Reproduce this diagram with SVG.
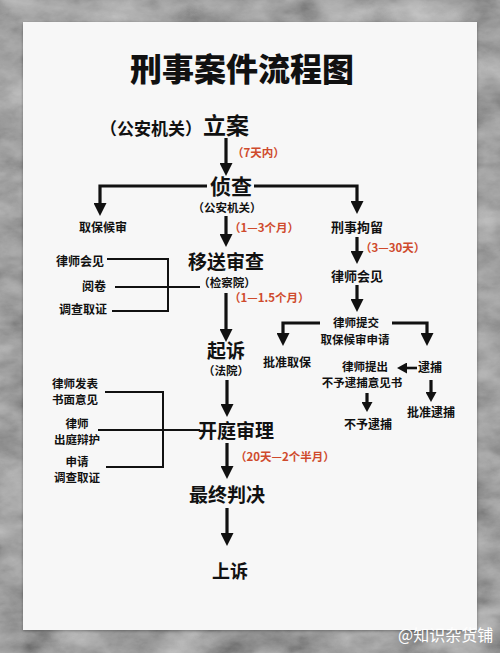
<svg xmlns="http://www.w3.org/2000/svg" width="500" height="653" viewBox="0 0 500 653">
<style>
.t{font-family:"Noto Sans CJK SC","Liberation Sans",sans-serif;font-weight:700;fill:#111;text-anchor:middle}
.title{font-family:"Noto Sans CJK SC","Liberation Sans",sans-serif;font-weight:900;fill:#111;text-anchor:middle;font-size:32px}
.big{font-size:19px}
.mid{font-size:11.5px}
.sm{font-size:12px}
.two{font-size:11.5px}
.red{font-family:"Noto Sans CJK SC","Liberation Sans",sans-serif;font-weight:700;fill:#cf4a2c;font-size:11.5px}
.ar{fill:none;stroke:#111;stroke-width:3.2}
.ars{fill:none;stroke:#111;stroke-width:2.6}
.br{fill:none;stroke:#111;stroke-width:2}
.wm{font-family:"Noto Sans CJK SC","Liberation Sans",sans-serif;fill:#fff;font-size:16px}
</style>
<defs>
<marker id="ah" markerUnits="userSpaceOnUse" markerWidth="13" markerHeight="13" refX="1" refY="6.5" orient="auto" viewBox="0 0 13 13">
<path d="M0,0 L13,6.5 L0,13 z" fill="#111"/>
</marker>
<marker id="ahs" markerUnits="userSpaceOnUse" markerWidth="10" markerHeight="11" refX="1" refY="5.5" orient="auto" viewBox="0 0 10 11">
<path d="M0,0 L10,5.5 L0,11 z" fill="#111"/>
</marker>
<filter id="marble" x="0" y="0" width="100%" height="100%">
<feTurbulence type="fractalNoise" baseFrequency="0.02 0.035" numOctaves="5" seed="7" result="n"/>
<feColorMatrix in="n" type="matrix" values="0.33 0.33 0.33 0 0  0.33 0.33 0.33 0 0  0.33 0.33 0.33 0 0  0 0 0 0 1" result="g"/>
<feComponentTransfer in="g"><feFuncR type="linear" slope="1.8" intercept="-0.35"/><feFuncG type="linear" slope="1.8" intercept="-0.35"/><feFuncB type="linear" slope="1.8" intercept="-0.35"/></feComponentTransfer>
</filter>
<filter id="shadow" x="-5%" y="-5%" width="110%" height="110%">
<feDropShadow dx="0" dy="1" stdDeviation="1.5" flood-color="#000" flood-opacity="0.35"/>
</filter>
</defs>

<rect x="0" y="0" width="500" height="653" fill="#6f6f6f"/>
<rect x="0" y="0" width="500" height="653" filter="url(#marble)" opacity="0.6"/>
<rect x="23" y="22" width="454" height="608" fill="#f7f7f7" filter="url(#shadow)"/>

<text class="title" x="242" y="81">刑事案件流程图</text>

<g id="connectors">
<path class="ar" d="M226,138 V164" marker-end="url(#ah)"/>
<path class="ar" d="M207,186 H100 V204" marker-end="url(#ah)"/>
<path class="ar" d="M254,186 H357 V202" marker-end="url(#ah)"/>
<path class="ar" d="M226,216 V235" marker-end="url(#ah)"/>
<path class="ar" d="M226,293 V330" marker-end="url(#ah)"/>
<path class="ar" d="M227,380 V405" marker-end="url(#ah)"/>
<path class="ar" d="M227,443 V467" marker-end="url(#ah)"/>
<path class="ar" d="M227,508 V534" marker-end="url(#ah)"/>
<path class="ar" d="M357,237 V252" marker-end="url(#ah)"/>
<path class="ar" d="M357,285 V300" marker-end="url(#ah)"/>
<path class="ar" d="M320,323 H283 V334" marker-end="url(#ah)"/>
<path class="ar" d="M392,323 H427 V334" marker-end="url(#ah)"/>
<path class="ars" d="M417,368 H406" marker-end="url(#ahs)"/>
<path class="ar" d="M367,393 V403" marker-end="url(#ahs)"/>
<path class="ar" d="M431,380 V393" marker-end="url(#ahs)"/>
<path class="br" d="M107,259 H168 V311 H112"/>
<path class="br" d="M115,287 H200"/>
<path class="br" d="M105,392 H163 V467 H106"/>
<path class="br" d="M98,430 H200"/>
</g>

<g id="lian">
<text class="t" x="151" y="135" style="font-size:17px">（公安机关）</text>
<text class="t" x="226" y="134" style="font-size:23px">立案</text>
</g>
<text class="red" x="232" y="157">（7天内）</text>

<g id="zhencha">
<text class="t" x="231" y="194" style="font-size:21px">侦查</text>
<text class="t mid" x="227" y="212">（公安机关）</text>
</g>
<g id="qubao1"><text class="t sm" x="103" y="232">取保候审</text></g>
<g id="juliu"><text class="t" x="357" y="232" style="font-size:13px">刑事拘留</text></g>
<text class="red" x="229" y="232">（1—3个月）</text>
<text class="red" x="360" y="252">（3—30天）</text>

<g id="yisong">
<text class="t big" x="226" y="269">移送审查</text>
<text class="t mid" x="227" y="287">（检察院）</text>
</g>
<g id="huijian1"><text class="t sm" x="80" y="266">律师会见</text></g>
<g id="yuejuan"><text class="t sm" x="94" y="291">阅卷</text></g>
<g id="diaocha1"><text class="t sm" x="83" y="314">调查取证</text></g>
<g id="huijian2"><text class="t" x="357" y="281" style="font-size:13px">律师会见</text></g>
<text class="red" x="229" y="302">（1—1.5个月）</text>

<g id="tijiao">
<text class="t two" x="356" y="327">律师提交</text>
<text class="t two" x="355" y="344">取保候审申请</text>
</g>
<g id="pizhunqubao"><text class="t sm" x="287" y="367">批准取保</text></g>
<g id="daibu"><text class="t sm" x="430" y="372">逮捕</text></g>
<g id="tichu">
<text class="t two" x="365" y="371">律师提出</text>
<text class="t two" x="362" y="387">不予逮捕意见书</text>
</g>
<g id="buyu"><text class="t sm" x="368" y="429">不予逮捕</text></g>
<g id="pizhundaibu"><text class="t sm" x="431" y="417">批准逮捕</text></g>

<g id="qisu">
<text class="t big" x="226" y="358">起诉</text>
<text class="t mid" x="226" y="375">（法院）</text>
</g>

<g id="fabiao">
<text class="t two" x="75" y="388">律师发表</text>
<text class="t two" x="75" y="404">书面意见</text>
</g>
<g id="bianhu">
<text class="t two" x="77" y="428">律师</text>
<text class="t two" x="77" y="444">出庭辩护</text>
</g>
<g id="shenqing">
<text class="t two" x="77" y="466">申请</text>
<text class="t two" x="77" y="482">调查取证</text>
</g>

<g id="kaiting"><text class="t big" x="236" y="438">开庭审理</text></g>
<text class="red" x="235" y="461">（20天—2个半月）</text>
<g id="panjue"><text class="t big" x="227" y="502">最终判决</text></g>
<g id="shangsu"><text class="t" x="230" y="578" style="font-size:18px">上诉</text></g>

<text class="wm" x="398" y="641">@知识杂货铺</text>
</svg>
